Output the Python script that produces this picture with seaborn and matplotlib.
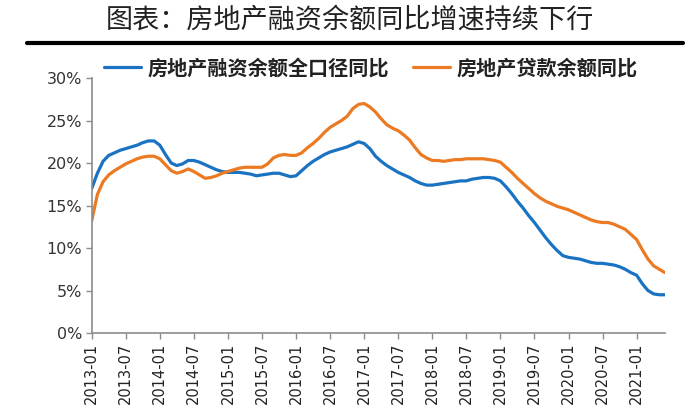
import numpy as np
import pandas as pd
import matplotlib
matplotlib.use("Agg")
import matplotlib.pyplot as plt
import seaborn as sns

title = "图表：房地产融资余额同比增速持续下行"
series_names = ["房地产融资余额全口径同比", "房地产贷款余额同比"]

months = pd.date_range("2013-01-01", "2021-06-01", freq="MS").strftime("%Y-%m").tolist()

financing_yoy = [
    17.0, 18.8, 20.2, 20.9, 21.2, 21.5, 21.7, 21.9, 22.1, 22.4, 22.6, 22.6,
    22.1, 21.0, 20.0, 19.7, 19.9, 20.3, 20.3, 20.1, 19.8, 19.5, 19.2, 19.0,
    18.9, 18.9, 18.9, 18.8, 18.7, 18.5, 18.6, 18.7, 18.8, 18.8, 18.6, 18.4,
    18.5, 19.1, 19.7, 20.2, 20.6, 21.0, 21.3, 21.5, 21.7, 21.9, 22.2, 22.5,
    22.3, 21.7, 20.8, 20.2, 19.7, 19.3, 18.9, 18.6, 18.3, 17.9, 17.6, 17.4,
    17.4, 17.5, 17.6, 17.7, 17.8, 17.9, 17.9, 18.1, 18.2, 18.3, 18.3, 18.2,
    17.9, 17.2, 16.4, 15.5, 14.7, 13.8, 13.0, 12.1, 11.2, 10.4, 9.7, 9.1,
    8.9, 8.8, 8.7, 8.5, 8.3, 8.2, 8.2, 8.1, 8.0, 7.8, 7.5, 7.1,
    6.8, 5.8, 5.0, 4.6, 4.5, 4.5,
]
loan_yoy = [
    13.2, 16.3, 17.8, 18.6, 19.1, 19.5, 19.9, 20.2, 20.5, 20.7, 20.8, 20.8,
    20.5, 19.8, 19.1, 18.8, 19.0, 19.3, 19.0, 18.6, 18.2, 18.3, 18.5, 18.8,
    19.0, 19.2, 19.4, 19.5, 19.5, 19.5, 19.5, 19.9, 20.6, 20.9, 21.0, 20.9,
    20.9, 21.2, 21.8, 22.3, 22.9, 23.6, 24.2, 24.6, 25.0, 25.5, 26.4, 26.9,
    27.0, 26.6, 26.0, 25.2, 24.5, 24.1, 23.8, 23.3, 22.7, 21.8, 21.0, 20.6,
    20.3, 20.3, 20.2, 20.3, 20.4, 20.4, 20.5, 20.5, 20.5, 20.5, 20.4, 20.3,
    20.1, 19.5, 18.9, 18.2, 17.6, 17.0, 16.4, 15.9, 15.5, 15.2, 14.9, 14.7,
    14.5, 14.2, 13.9, 13.6, 13.3, 13.1, 13.0, 13.0, 12.8, 12.5, 12.2, 11.6,
    11.0, 9.8, 8.7, 7.9, 7.5, 7.1,
]
tick_labels = months[::6]
y_ticks = [0, 5, 10, 15, 20, 25, 30]

sns.set_theme(style="white")
plt.rcParams["font.family"] = ["Noto Sans CJK SC", "DejaVu Sans"]

idx = list(range(len(months)))
df = pd.DataFrame({
    "idx": idx * 2,
    "value": financing_yoy + loan_yoy,
    "series": [series_names[0]] * len(months) + [series_names[1]] * len(months),
})

fig = plt.figure(figsize=(7.0, 4.18), dpi=100)
ax = fig.add_axes([0.131, 0.2033, 0.819, 0.610])

palette = {series_names[0]: "#1A73C2", series_names[1]: "#EB7A22"}
sns.lineplot(data=df, x="idx", y="value", hue="series", palette=palette,
             linewidth=2.3, ax=ax, legend=True)

ax.set_xlim(0, len(months) - 1)
ax.set_ylim(0, 30)
ax.set_xticks(idx[::6])
ax.set_xticklabels(tick_labels, rotation=90, fontsize=10.5, color="#222222",
                   family=["DejaVu Sans"])
ax.set_yticks(y_ticks)
ax.set_yticklabels([f"{v}%" for v in y_ticks], fontsize=11.5, color="#333333",
                   family=["DejaVu Sans"])
ax.set_xlabel("")
ax.set_ylabel("")

for s in ["top", "right"]:
    ax.spines[s].set_visible(False)
for s in ["left", "bottom"]:
    ax.spines[s].set_color("#8c8c8c")
    ax.spines[s].set_linewidth(1.2)
ax.tick_params(axis="both", which="both", direction="out", length=4,
               width=1.0, color="#8c8c8c", left=True, bottom=True, pad=3)
ax.grid(False)

handles, labels = ax.get_legend_handles_labels()
ax.legend_.remove()
leg = fig.legend(handles, labels, loc="center", bbox_to_anchor=(0.53, 0.838),
                 ncol=2, frameon=False, handlelength=1.8, columnspacing=1.2,
                 handletextpad=0.35,
                 prop={"family": ["Noto Sans CJK SC", "DejaVu Sans"],
                       "weight": "bold", "size": 14.5})
for t in leg.get_texts():
    t.set_color("#222222")

fig.text(0.5, 0.952, title, ha="center", va="center", fontsize=19.5,
         color="#222222", fontweight="light")
fig.add_artist(plt.Line2D([0.039, 0.976], [0.897, 0.897], color="black",
                          linewidth=3.0, transform=fig.transFigure))

fig.savefig("out.png", dpi=100)
